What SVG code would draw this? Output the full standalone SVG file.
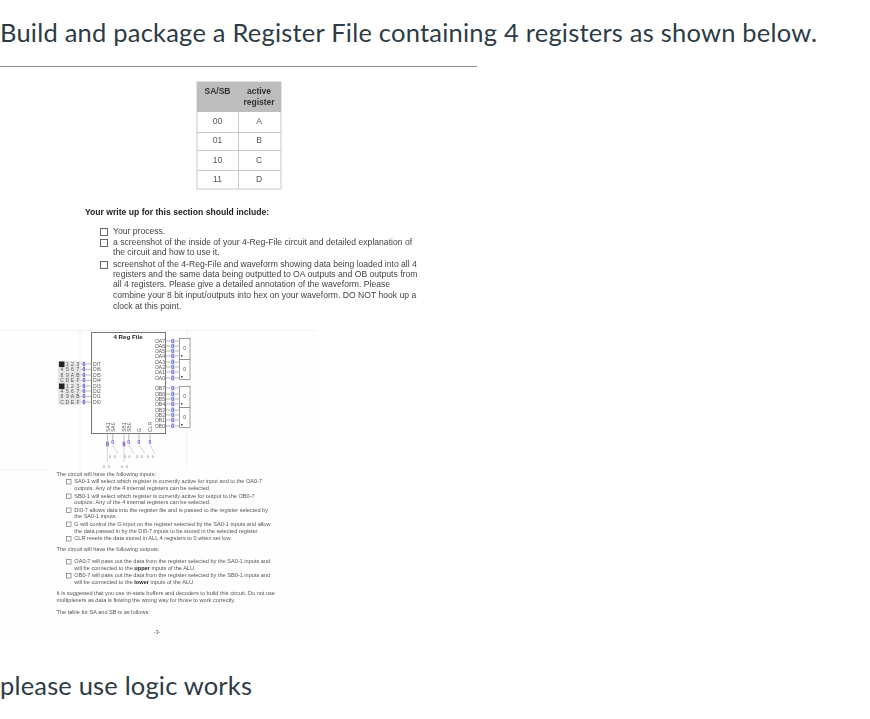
<svg xmlns="http://www.w3.org/2000/svg" width="870" height="719" viewBox="0 0 870 719">
<style>
text{font-family:"Liberation Sans",Arial,sans-serif;fill:#444}
.h{font-family:Lato,"Open Sans",sans-serif;font-size:25.5px;fill:#2d3b45}
.th{font-size:8.5px;font-weight:bold;fill:#333;text-anchor:middle}
.td{font-size:8.5px;fill:#555;text-anchor:middle}
.w{font-size:8.6px;fill:#444}
.d{font-size:5px;fill:#555}
.e{font-size:5px;fill:#555;text-anchor:end}
.p{font-size:5.6px;fill:#555}
.g{font-size:4.600px;fill:#444;text-anchor:middle}
.f{font-size:4.200px;fill:#888;text-anchor:middle}
.c{fill:#fff;stroke:#666;stroke-width:1}
.q{fill:#fff;stroke:#777;stroke-width:.7}
.c2{fill:#fff;stroke:#777;stroke-width:.7}
.l{stroke:#aaa;stroke-width:.8;fill:none}
.b{font-size:5px;fill:#4a4ae0;text-anchor:middle;font-weight:bold}
.k{font-size:5px;fill:#555;text-anchor:middle}
.sw{stroke:#bbb;stroke-width:.6;fill:none}
.soft{filter:url(#blur)}
</style>
<defs><filter id="blur" x="-5%" y="-5%" width="110%" height="110%"><feGaussianBlur stdDeviation="0.3"/></filter></defs>
<rect width="870" height="719" fill="#fff"/>
<text class="h" x="0" y="42" textLength="817" lengthAdjust="spacing">Build and package a Register File containing 4 registers as shown below.</text>
<line x1="0" y1="66.500" x2="477" y2="66.500" stroke="#8a8a8a"/>

<g id="register-table" class="soft">
<rect x="197" y="82" width="84" height="107" fill="#fff" stroke="#c8c8c8"/>
<rect x="197" y="82" width="84" height="30" fill="#bdbdbd"/>
<path d="M197 132.500H281M197 150.500H281M197 170.500H281M238.500 112V189" stroke="#c8c8c8" fill="none"/>
<text class="th" x="217.500" y="94">SA/SB</text>
<text class="th" x="259" y="94">active</text>
<text class="th" x="259" y="105">register</text>
<text class="td" x="217.500" y="124">00</text><text class="td" x="259" y="124">A</text>
<text class="td" x="217.500" y="143">01</text><text class="td" x="259" y="143">B</text>
<text class="td" x="217.500" y="163">10</text><text class="td" x="259" y="163">C</text>
<text class="td" x="217.500" y="182">11</text><text class="td" x="259" y="182">D</text>
</g>

<g id="write-up" class="soft">
<text class="w" x="85" y="215" style="font-weight:bold;fill:#222">Your write up for this section should include:</text>
<rect class="c" x="100.500" y="228.500" width="7" height="7"/>
<rect class="c" x="100.500" y="239.500" width="7" height="7"/>
<rect class="c" x="100.500" y="261.500" width="7" height="7"/>
<text class="w" x="113" y="234">Your process.</text>
<text class="w" x="113" y="245">a screenshot of the inside of your 4-Reg-File circuit and detailed explanation of</text>
<text class="w" x="113" y="255">the circuit and how to use it.</text>
<text class="w" x="113" y="267">screenshot of the 4-Reg-File and waveform showing data being loaded into all 4</text>
<text class="w" x="113" y="277">registers and the same data being outputted to OA outputs and OB outputs from</text>
<text class="w" x="113" y="287">all 4 registers. Please give a detailed annotation of the waveform. Please</text>
<text class="w" x="113" y="298">combine your 8 bit input/outputs into hex on your waveform. DO NOT hook up a</text>
<text class="w" x="113" y="309">clock at this point.</text>
</g>

<g id="document-page">
<rect x="0" y="330" width="316" height="312" fill="#fefefe"/>
<path d="M0 330.500H316M80 331V470M187 331V470M0 470H50" stroke="#f2f2f2" fill="none"/>
</g>

<g id="connectors" class="soft">
<path class="l" d="M79 364H91M79 369.500H91M79 375H91M79 380.500H91M79 386H91M79 391H91M79 396.500H91M79 402H91"/>
<path class="l" d="M166 341H179M166 346H179M166 351H179M166 356H179M166 362H179M166 367H179M166 372H179M166 378H179"/>
<path class="l" d="M166 388H179M166 394H179M166 399H179M166 404H179M166 410H179M166 415H179M166 420H179M166 426H179"/>
<path class="l" d="M107.500 434V442M112.700 434V440M124 434V442M128.700 434V440M139 434V440M150 434V440"/>
<path class="sw" d="M107.500 447V462M112.700 445L118 454M124 447V462M128.700 445L134 454M139 445L145 454M150 445L155 454"/>
</g>

<g id="hex-inputs" class="soft">
<rect x="58" y="361" width="23" height="44" fill="#e6e6e6"/>
<rect x="59" y="361.500" width="5.500" height="5.500" fill="#222"/><rect x="59" y="383.500" width="5.500" height="5.500" fill="#222"/>
<text class="k" x="67.300" y="366">1</text><text class="k" x="72.500" y="366">2</text><text class="k" x="78" y="366">3</text>
<text class="k" x="62" y="371.300">4</text><text class="k" x="67.300" y="371.300">5</text><text class="k" x="72.500" y="371.300">6</text><text class="k" x="78" y="371.300">7</text>
<text class="k" x="62" y="376.800">8</text><text class="k" x="67.300" y="376.800">9</text><text class="k" x="72.500" y="376.800">A</text><text class="k" x="78" y="376.800">B</text>
<text class="k" x="62" y="382.200">C</text><text class="k" x="67.300" y="382.200">D</text><text class="k" x="72.500" y="382.200">E</text><text class="k" x="78" y="382.200">F</text>
<text class="k" x="67.300" y="387.800">1</text><text class="k" x="72.500" y="387.800">2</text><text class="k" x="78" y="387.800">3</text>
<text class="k" x="62" y="393">4</text><text class="k" x="67.300" y="393">5</text><text class="k" x="72.500" y="393">6</text><text class="k" x="78" y="393">7</text>
<text class="k" x="62" y="398.400">8</text><text class="k" x="67.300" y="398.400">9</text><text class="k" x="72.500" y="398.400">A</text><text class="k" x="78" y="398.400">B</text>
<text class="k" x="62" y="403.800">C</text><text class="k" x="67.300" y="403.800">D</text><text class="k" x="72.500" y="403.800">E</text><text class="k" x="78" y="403.800">F</text>
<rect x="82.500" y="361" width="3" height="44" fill="#dcdcec"/>
<text class="b" x="84" y="365.800">0</text><text class="b" x="84" y="371.300">0</text><text class="b" x="84" y="376.800">0</text><text class="b" x="84" y="382.200">0</text><text class="b" x="84" y="387.800">0</text><text class="b" x="84" y="393">0</text><text class="b" x="84" y="398.400">0</text><text class="b" x="84" y="403.800">0</text>
</g>

<g id="reg-file" class="soft">
<rect x="91.500" y="332.500" width="74" height="101" fill="#fff" stroke="#777"/>
<text x="128" y="338.500" text-anchor="middle" style="font-size:6.200px;font-weight:bold;fill:#222">4 Reg File</text>
<text class="d" x="93" y="365.800">DI7</text><text class="d" x="93" y="371.300">DI6</text><text class="d" x="93" y="376.800">DI5</text><text class="d" x="93" y="382.200">DI4</text><text class="d" x="93" y="387.800">DI3</text><text class="d" x="93" y="393">DI2</text><text class="d" x="93" y="398.400">DI1</text><text class="d" x="93" y="403.800">DI0</text>
<text class="e" x="165" y="342.800">OA7</text><text class="e" x="165" y="347.800">OA6</text><text class="e" x="165" y="353">OA5</text><text class="e" x="165" y="358">OA4</text><text class="e" x="165" y="363.600">OA3</text><text class="e" x="165" y="368.800">OA2</text><text class="e" x="165" y="374">OA1</text><text class="e" x="165" y="379.500">OA0</text>
<text class="e" x="165" y="390">OB7</text><text class="e" x="165" y="395.500">OB6</text><text class="e" x="165" y="400.800">OB5</text><text class="e" x="165" y="406">OB4</text><text class="e" x="165" y="411.500">OB3</text><text class="e" x="165" y="416.800">OB2</text><text class="e" x="165" y="422">OB1</text><text class="e" x="165" y="427.500">OB0</text>
<text class="d" transform="translate(109.500 432) rotate(-90)">SA1</text>
<text class="d" transform="translate(114.500 432) rotate(-90)">SA0</text>
<text class="d" transform="translate(125.500 432) rotate(-90)">SB1</text>
<text class="d" transform="translate(130.500 432) rotate(-90)">SB0</text>
<text class="d" transform="translate(141 432) rotate(-90)">G</text>
<text class="d" transform="translate(151.500 432) rotate(-90)">CLR</text>
</g>

<g id="output-probes" class="soft">
<rect x="171" y="339" width="3.500" height="42" fill="#dcdcec"/><rect x="171" y="386" width="3.500" height="42" fill="#dcdcec"/>
<text class="b" x="172.700" y="342.800">0</text><text class="b" x="172.700" y="347.800">0</text><text class="b" x="172.700" y="353">0</text><text class="b" x="172.700" y="358">0</text><text class="b" x="172.700" y="363.600">0</text><text class="b" x="172.700" y="368.800">0</text><text class="b" x="172.700" y="374">0</text><text class="b" x="172.700" y="379.500">0</text>
<text class="b" x="172.700" y="390">0</text><text class="b" x="172.700" y="395.500">0</text><text class="b" x="172.700" y="400.800">0</text><text class="b" x="172.700" y="406">0</text><text class="b" x="172.700" y="411.500">0</text><text class="b" x="172.700" y="416.800">0</text><text class="b" x="172.700" y="422">0</text><text class="b" x="172.700" y="427.500">0</text>
</g>

<g id="hex-displays" class="soft">
<rect class="c2" x="179.500" y="338.500" width="10.500" height="21"/><rect class="c2" x="179.500" y="359.500" width="10.500" height="20"/>
<rect class="c2" x="179.500" y="386.500" width="10.500" height="21"/><rect class="c2" x="179.500" y="407.500" width="10.500" height="20"/>
<text class="g" x="184.500" y="350">0</text><text class="g" x="184.500" y="371">0</text><text class="g" x="184.500" y="398">0</text><text class="g" x="184.500" y="419">0</text>
<rect x="181" y="355" width="1.500" height="1.500" fill="#333"/><rect x="181" y="376" width="1.500" height="1.500" fill="#333"/><rect x="181" y="403" width="1.500" height="1.500" fill="#333"/><rect x="181" y="424" width="1.500" height="1.500" fill="#333"/>
</g>

<g id="control-inputs" class="soft">
<rect x="106" y="441" width="3" height="6" fill="#e0c4d0"/><rect x="122.500" y="441" width="3" height="6" fill="#e0c4d0"/>
<text class="b" x="107.500" y="446">0</text><text class="b" x="112.700" y="443.500">0</text><text class="b" x="124" y="446">0</text><text class="b" x="128.700" y="443.500">0</text><text class="b" x="139" y="443.500">0</text><text class="b" x="150" y="443.500">0</text>
<text class="f" x="110" y="457.500">0</text><text class="f" x="115" y="457.500">0</text>
<text class="f" x="125" y="457.500">0</text><text class="f" x="129.500" y="457.500">0</text>
<text class="f" x="137" y="457.500">0</text><text class="f" x="142" y="457.500">0</text>
<text class="f" x="148" y="457.500">0</text><text class="f" x="153" y="457.500">0</text>
<text class="f" x="104" y="468">0</text><text class="f" x="109" y="468">0</text>
<text class="f" x="122" y="468">0</text><text class="f" x="127" y="468">0</text>
</g>

<g id="page-text" class="soft">
<text class="p" x="56.500" y="476">The circuit will have the following inputs:</text>
<rect class="q" x="66.500" y="479.500" width="4.500" height="4.500"/>
<text class="p" x="74.300" y="483">SA0-1 will select which register is currently active for input and to the OA0-7</text>
<text class="p" x="74.300" y="490">outputs. Any of the 4 internal registers can be selected.</text>
<rect class="q" x="66.500" y="494" width="4.500" height="4.500"/>
<text class="p" x="74.300" y="497.500">SB0-1 will select which register is currently active for output to the OB0-7</text>
<text class="p" x="74.300" y="504">outputs. Any of the 4 internal registers can be selected.</text>
<rect class="q" x="66.500" y="508" width="4.500" height="4.500"/>
<text class="p" x="74.300" y="511.500">DI0-7 allows data into the register file and is passed to the register selected by</text>
<text class="p" x="74.300" y="518">the SA0-1 inputs.</text>
<rect class="q" x="66.500" y="522" width="4.500" height="4.500"/>
<text class="p" x="74.300" y="525.500">G will control the G input on the register selected by the SA0-1 inputs and allow</text>
<text class="p" x="74.300" y="532.700">the data passed in by the DI0-7 inputs to be stored in the selected register.</text>
<rect class="q" x="66.500" y="536.500" width="4.500" height="4.500"/>
<text class="p" x="74.300" y="540">CLR resets the data stored in ALL 4 registers to 0 when set low.</text>
<text class="p" x="56.500" y="551">The circuit will have the following outputs:</text>
<rect class="q" x="66.500" y="559.500" width="4.500" height="4.500"/>
<text class="p" x="74.300" y="563">OA0-7 will pass out the data from the register selected by the SA0-1 inputs and</text>
<text class="p" x="74.300" y="570">will be connected to the <tspan style="font-weight:bold;fill:#222">upper</tspan> inputs of the ALU.</text>
<rect class="q" x="66.500" y="573.500" width="4.500" height="4.500"/>
<text class="p" x="74.300" y="577">OB0-7 will pass out the data from the register selected by the SB0-1 inputs and</text>
<text class="p" x="74.300" y="584">will be connected to the <tspan style="font-weight:bold;fill:#222">lower</tspan> inputs of the ALU.</text>
<text class="p" x="56.500" y="595">It is suggested that you use tri-state buffers and decoders to build this circuit. Do not use</text>
<text class="p" x="56.500" y="602">multiplexers as data is flowing the wrong way for those to work correctly.</text>
<text class="p" x="56.500" y="614">The table for SA and SB is as follows:</text>
<text class="p" x="157" y="634" text-anchor="middle">-3-</text>
</g>

<text class="h" x="0" y="695" textLength="252" lengthAdjust="spacing">please use logic works</text>
</svg>
